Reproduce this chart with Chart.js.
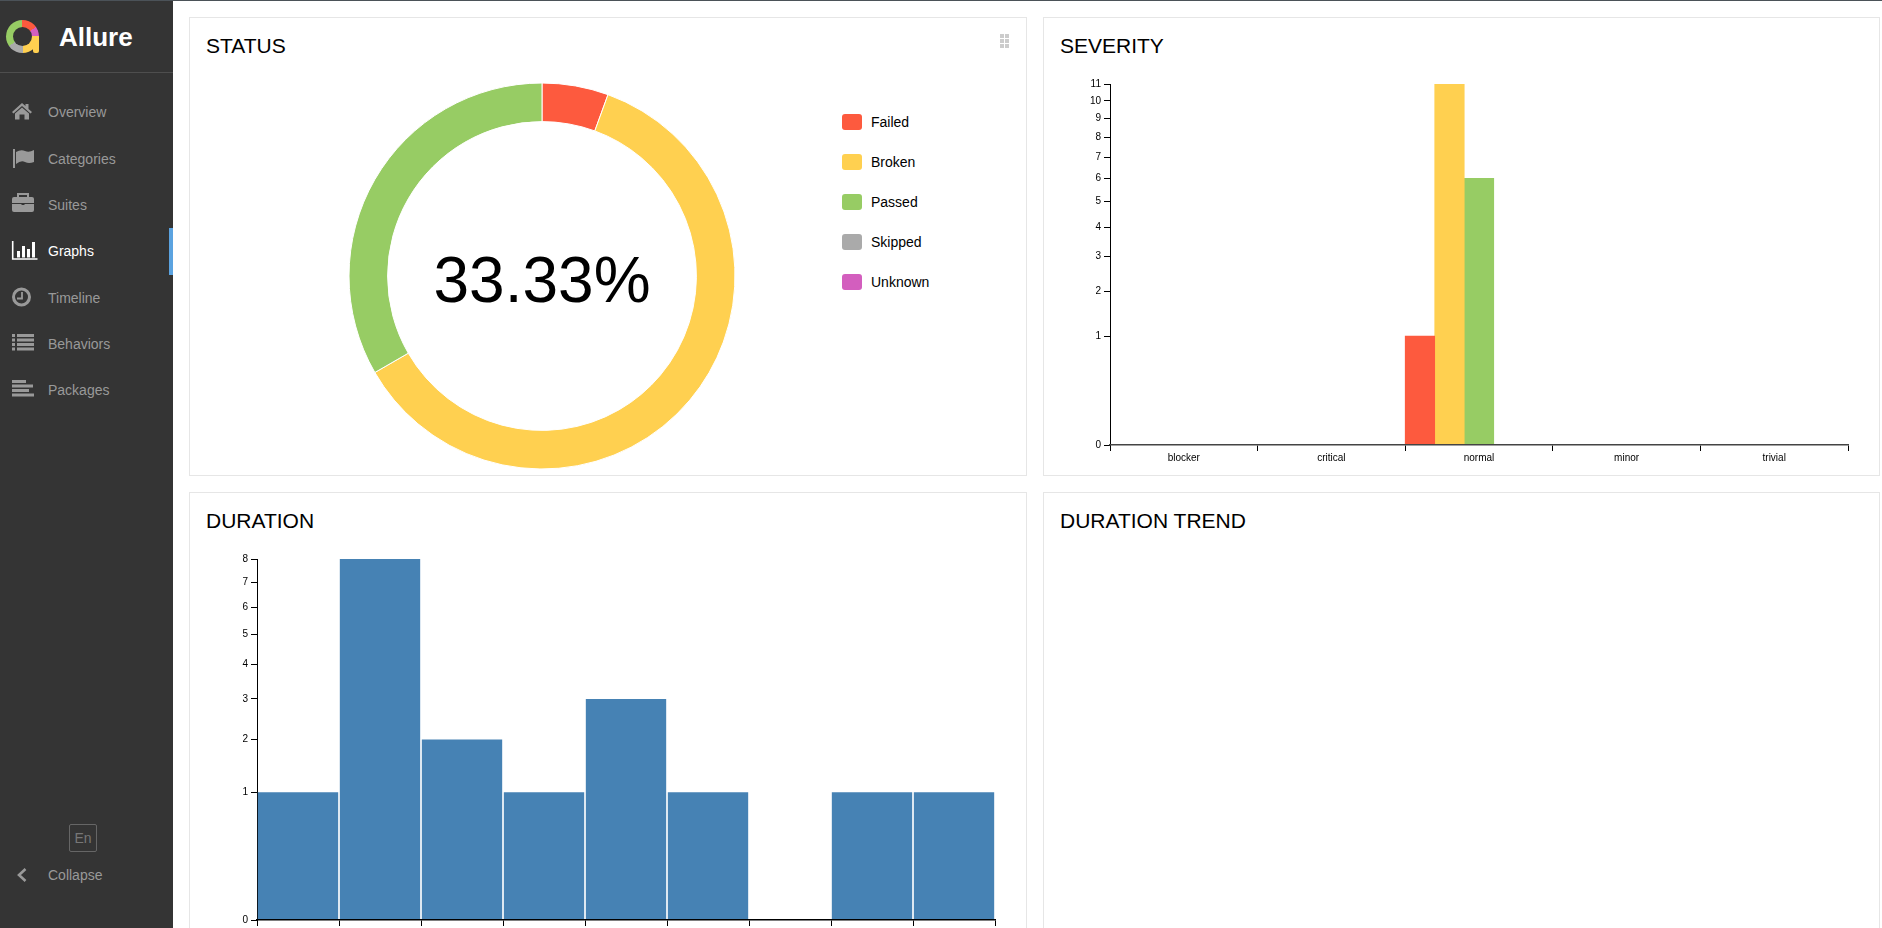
<!DOCTYPE html>
<html>
<head>
<meta charset="utf-8">
<title>Allure</title>
<script src="https://cdn.jsdelivr.net/npm/chart.js@4"></script>
<style>
html, body { margin: 0; padding: 0; background: #fff; }
body { width: 1882px; height: 928px; overflow: hidden; position: relative; font-family: "Liberation Sans", Arial, sans-serif; color: #000; }
#topline { position: absolute; left: 0; top: 0; width: 1882px; height: 1px; background: #4b5258; z-index: 5; }
#side { position: absolute; left: 0; top: 0; width: 173px; height: 928px; background: #343434; }
#side svg { position: absolute; left: 0; top: 0; }
#logo { position: absolute; left: 6px; top: 20px; width: 33px; height: 33px; border-radius: 50%;
  background: conic-gradient(#fd5a3e 0 55deg, #d35ebe 55deg 90deg, #ffd050 90deg 180deg, #aaa 180deg 235deg, #97cc64 235deg 360deg); }
#logo i { position: absolute; left: 7px; top: 7px; width: 19px; height: 19px; border-radius: 50%; background: #343434; }
#logo b { position: absolute; left: 27px; top: 17px; width: 6px; height: 16px; background: #ffd050; border-radius: 0 0 2px 2px; }
#brand { position: absolute; left: 59px; top: 22px; font-size: 26px; line-height: 30px; font-weight: bold; color: #fff; }
#sep { position: absolute; left: 0; top: 72px; width: 173px; height: 1px; background: #4e4e4e; }
.menu { position: absolute; left: 48px; font-size: 14px; line-height: 16px; color: #999; }
.menu.on { color: #fff; }
#active { position: absolute; left: 169px; top: 228px; width: 4px; height: 47px; background: #5ba3e0; }
#lang { position: absolute; left: 69px; top: 824px; width: 26px; height: 26px; border: 1px solid #666; border-radius: 2px; font-size: 14px; line-height: 26px; text-align: center; color: #777; }
.card { position: absolute; border: 1px solid #e6e6e6; box-sizing: border-box; background: #fff; }
.title { position: absolute; font-size: 21px; line-height: 24px; }
.plot { position: absolute; }
.swatch { position: absolute; left: 842px; width: 20px; height: 16px; border-radius: 3px; }
.leg { position: absolute; left: 871px; font-size: 14px; line-height: 16px; }
.dot { position: absolute; width: 4px; height: 4px; background: #ccc; }
</style>
</head>
<body>
<div id="topline"></div>
<div id="side">
  <svg width="173" height="928" fill="#999">
    <path d="M22 103 L12 112 L13.5 113.5 L22 106 L30.5 113.5 L32 112 L28.5 109 V104 H25.5 V106 Z"/>
    <path d="M15 113.5 L22 107.5 L29 113.5 V119.5 H24.5 V114.5 H19.5 V119.5 H15 Z"/>
    <rect x="13" y="149" width="2" height="19"/>
    <path d="M16 152 Q21 149 25 151 T34 150 V162 Q29 164 25 162 T16 164 Z"/>
    <rect x="12" y="197" width="22" height="15" rx="2"/>
    <path d="M18 197 V194 H28 V197" fill="none" stroke="#999" stroke-width="2"/>
    <rect x="12" y="203" width="22" height="1" fill="#343434"/>
    <rect x="21.5" y="203" width="3" height="2" fill="#343434"/>
    <path d="M12.7 241 V259 H37.5" fill="none" stroke="#fff" stroke-width="1.6"/>
    <rect x="17" y="251" width="3" height="6.5" fill="#fff"/>
    <rect x="22" y="246" width="3" height="11.5" fill="#fff"/>
    <rect x="27" y="249" width="3" height="8.5" fill="#fff"/>
    <rect x="32" y="242" width="3" height="15.5" fill="#fff"/>
    <circle cx="21.5" cy="297" r="8" fill="none" stroke="#999" stroke-width="3"/>
    <path d="M22 292 V298.5 H17" fill="none" stroke="#999" stroke-width="1.8"/>
    <rect x="12" y="334" width="3" height="3"/><rect x="17" y="334" width="17" height="3"/>
    <rect x="12" y="338.5" width="3" height="3"/><rect x="17" y="338.5" width="17" height="3"/>
    <rect x="12" y="343" width="3" height="3"/><rect x="17" y="343" width="17" height="3"/>
    <rect x="12" y="347.5" width="3" height="3"/><rect x="17" y="347.5" width="17" height="3"/>
    <rect x="12" y="380" width="14" height="3"/>
    <rect x="12" y="384.5" width="21" height="3"/>
    <rect x="12" y="389" width="17" height="3"/>
    <rect x="12" y="393.5" width="22" height="3"/>
    <path d="M25.5 869 L19 875 L25.5 881" fill="none" stroke="#999" stroke-width="2.6"/>
  </svg>
  <div id="logo"><i></i><b></b></div>
  <div id="brand">Allure</div>
  <div id="sep"></div>
  <div id="active"></div>
  <div id="lang">En</div>
</div>

<div class="card" style="left:189px;top:17px;width:838px;height:459px"></div>
<div class="card" style="left:1043px;top:17px;width:837px;height:459px"></div>
<div class="card" style="left:189px;top:492px;width:838px;height:500px"></div>
<div class="card" style="left:1043px;top:492px;width:837px;height:500px"></div>

<div class="title" style="left:206px;top:34px">STATUS</div>
<div class="title" style="left:1060px;top:34px">SEVERITY</div>
<div class="title" style="left:206px;top:509px">DURATION</div>
<div class="title" style="left:1060px;top:509px">DURATION TREND</div>

<div class="dot" style="left:1000px;top:34px"></div><div class="dot" style="left:1005px;top:34px"></div>
<div class="dot" style="left:1000px;top:39px"></div><div class="dot" style="left:1005px;top:39px"></div>
<div class="dot" style="left:1000px;top:44px"></div><div class="dot" style="left:1005px;top:44px"></div>

<div class="plot" style="left:342px;top:76px"><canvas id="statusChart" width="400" height="400"></canvas></div>
<div class="plot" style="left:1060px;top:71px"><canvas id="severityChart" width="800" height="400"></canvas></div>
<div class="plot" style="left:207px;top:546px"><canvas id="durationChart" width="800" height="400"></canvas></div>

<script>
var menuLabels = ['Overview', 'Categories', 'Suites', 'Graphs', 'Timeline', 'Behaviors', 'Packages', 'Collapse'];
var menuTops = [104, 151, 197, 243, 290, 336, 382, 867];

var statusLabels = ['Failed', 'Broken', 'Passed', 'Skipped', 'Unknown'];
var statusValues = [1, 11, 6, 0, 0];
var statusColors = ['#fd5a3e', '#ffd050', '#97cc64', '#aaaaaa', '#d35ebe'];
var statusCenter = '33.33%';

var severityLabels = ['blocker', 'critical', 'normal', 'minor', 'trivial'];
var severityFailed = [0, 0, 1, 0, 0];
var severityBroken = [0, 0, 11, 0, 0];
var severityPassed = [0, 0, 6, 0, 0];
var severitySkipped = [0, 0, 0, 0, 0];
var severityUnknown = [0, 0, 0, 0, 0];
var severityMax = 11;

// the bin labels fall below the bottom of the screenshot
var durationLabels = ['', '', '', '', '', '', '', '', ''];
var durationValues = [1, 8, 2, 1, 3, 1, 0, 1, 1];
var durationMax = 8;

Chart.defaults.font.family = '"Liberation Sans", Arial, sans-serif';
Chart.defaults.font.size = 10;
Chart.defaults.color = '#000';

// y axes in the reference are square root scaled
class SqrtScale extends Chart.LinearScale {
  getPixelForValue(value) {
    return this.getPixelForDecimal((Math.sqrt(value) - Math.sqrt(this.min)) / (Math.sqrt(this.max) - Math.sqrt(this.min)));
  }
  getValueForPixel(pixel) {
    var d = this.getDecimalForPixel(pixel) * (Math.sqrt(this.max) - Math.sqrt(this.min)) + Math.sqrt(this.min);
    return d * d;
  }
}
SqrtScale.id = 'sqrt';
SqrtScale.defaults = Chart.LinearScale.defaults;
Chart.register(SqrtScale);

menuLabels.forEach(function (label, i) {
  var el = document.createElement('div');
  el.className = label === 'Graphs' ? 'menu on' : 'menu';
  el.style.top = menuTops[i] + 'px';
  el.textContent = label;
  document.getElementById('side').appendChild(el);
});

statusLabels.forEach(function (label, i) {
  var top = 114 + i * 40;
  var sw = document.createElement('div');
  sw.className = 'swatch';
  sw.style.top = top + 'px';
  sw.style.background = statusColors[i];
  document.body.appendChild(sw);
  var txt = document.createElement('div');
  txt.className = 'leg';
  txt.style.top = (top - 0.5) + 'px';
  txt.textContent = label;
  document.body.appendChild(txt);
});

var centerText = {
  id: 'centerText',
  afterDraw: function (chart) {
    var ctx = chart.ctx;
    ctx.save();
    ctx.font = '64px "Liberation Sans", Arial, sans-serif';
    ctx.fillStyle = '#000';
    ctx.textAlign = 'center';
    ctx.textBaseline = 'alphabetic';
    ctx.fillText(statusCenter, 200, 226);
    ctx.restore();
  }
};

new Chart(document.getElementById('statusChart'), {
  type: 'doughnut',
  plugins: [centerText],
  data: {
    labels: statusLabels,
    datasets: [{
      data: statusValues,
      backgroundColor: statusColors,
      borderColor: '#fff',
      borderWidth: 1
    }]
  },
  options: {
    responsive: false,
    animation: false,
    radius: 193,
    cutout: '80%',
    plugins: { legend: { display: false }, tooltip: { enabled: false } }
  }
});

function axes(maxValue, xColor) {
  return {
    x: {
      grid: { drawOnChartArea: false, drawTicks: true, tickLength: 6, tickColor: '#000', offset: true },
      border: { display: true, color: xColor, width: 1.5, z: 1 },
      ticks: { autoSkip: false, maxRotation: 0, padding: 1, color: '#000' },
      afterFit: function (scale) { scale.height = 26; }
    },
    y: {
      type: 'sqrt',
      min: 0,
      max: maxValue,
      grid: { drawOnChartArea: false, drawTicks: true, tickLength: 6, tickColor: '#000' },
      border: { display: true, color: '#000', width: 1 },
      ticks: { stepSize: 1, autoSkip: false, padding: 3, color: '#000' },
      afterFit: function (scale) { scale.width = 50; }
    }
  };
}

function barOptions(maxValue, xColor) {
  return {
    responsive: false,
    animation: false,
    layout: { padding: { top: 13, right: 12 } },
    plugins: { legend: { display: false }, tooltip: { enabled: false } },
    scales: axes(maxValue, xColor)
  };
}

var severityNames = statusLabels;
var severitySeries = [severityFailed, severityBroken, severityPassed, severitySkipped, severityUnknown];

new Chart(document.getElementById('severityChart'), {
  type: 'bar',
  data: {
    labels: severityLabels,
    datasets: severitySeries.map(function (values, i) {
      return {
        label: severityNames[i],
        data: values,
        backgroundColor: statusColors[i],
        categoryPercentage: 1,
        barPercentage: 1
      };
    })
  },
  options: barOptions(severityMax, '#444')
});

new Chart(document.getElementById('durationChart'), {
  type: 'bar',
  data: {
    labels: durationLabels,
    datasets: [{
      label: 'Duration',
      data: durationValues,
      backgroundColor: '#4682b4',
      categoryPercentage: 1,
      barPercentage: 0.98
    }]
  },
  options: barOptions(durationMax, '#000')
});
</script>
</body>
</html>
